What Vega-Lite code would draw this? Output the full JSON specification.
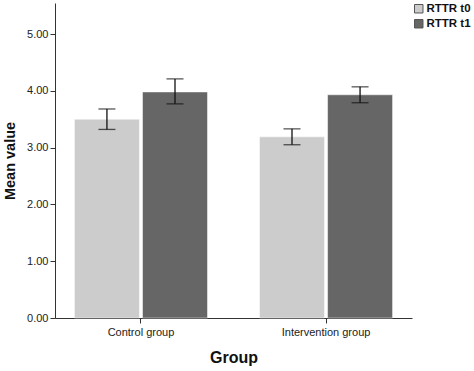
{
  "$schema": "https://vega.github.io/schema/vega-lite/v6.json",
  "width": 357,
  "height": 315,
  "autosize": {"type": "none"},
  "padding": {"left": 55, "top": 3, "right": 62, "bottom": 53},
  "background": "white",
  "config": {
    "view": {"stroke": null},
    "font": "Liberation Sans",
    "axis": {"grid": false, "domainColor": "#333333", "tickColor": "#333333", "labelColor": "#222222", "titleColor": "#111111", "labelFont": "Liberation Sans", "titleFont": "Liberation Sans"}
  },
  "data": {
    "values": [
      {"group": "Control group", "time": "RTTR t0", "mean": 3.50, "lo": 3.32, "hi": 3.68},
      {"group": "Control group", "time": "RTTR t1", "mean": 3.98, "lo": 3.77, "hi": 4.21},
      {"group": "Intervention group", "time": "RTTR t0", "mean": 3.19, "lo": 3.05, "hi": 3.33},
      {"group": "Intervention group", "time": "RTTR t1", "mean": 3.93, "lo": 3.79, "hi": 4.07}
    ]
  },
  "encoding": {
    "x": {
      "field": "group", "type": "nominal", "title": "Group",
      "scale": {"paddingInner": 0.281, "paddingOuter": 0.105},
      "axis": {"labelAngle": 0, "labelFontSize": 11, "titleFontSize": 16, "titleFontWeight": "bold", "titlePadding": 12, "tickSize": 5, "labelPadding": 3}
    },
    "xOffset": {"field": "time", "type": "nominal", "scale": {"paddingInner": 0.045, "paddingOuter": 0}}
  },
  "layer": [
    {
      "mark": {"type": "bar", "stroke": "white", "strokeWidth": 0.5},
      "encoding": {
        "y": {
          "field": "mean", "type": "quantitative", "title": "Mean value",
          "scale": {"domain": [0, 5.546], "nice": false},
          "axis": {"values": [0, 1, 2, 3, 4, 5], "format": ".2f", "labelFontSize": 11, "titleFontSize": 14.5, "titleFontWeight": "bold", "titlePadding": 9, "tickSize": 5}
        },
        "color": {
          "field": "time", "type": "nominal",
          "scale": {"domain": ["RTTR t0", "RTTR t1"], "range": ["#cccccc", "#666666"]},
          "legend": {
            "title": null, "orient": "none", "legendX": 358, "legendY": 0,
            "symbolType": "square", "symbolSize": 72, "symbolStrokeColor": "#555555", "symbolStrokeWidth": 1,
            "labelFontSize": 11.5, "labelFontWeight": "bold", "labelColor": "#111111", "rowPadding": 2, "labelOffset": 2, "labelLimit": 200
          }
        }
      }
    },
    {
      "mark": {"type": "rule", "color": "#111111", "strokeWidth": 1.3},
      "encoding": {"y": {"field": "lo", "type": "quantitative"}, "y2": {"field": "hi"}}
    },
    {
      "mark": {"type": "tick", "color": "#111111", "thickness": 1.3, "size": 17},
      "encoding": {"y": {"field": "lo", "type": "quantitative"}}
    },
    {
      "mark": {"type": "tick", "color": "#111111", "thickness": 1.3, "size": 17},
      "encoding": {"y": {"field": "hi", "type": "quantitative"}}
    }
  ]
}
